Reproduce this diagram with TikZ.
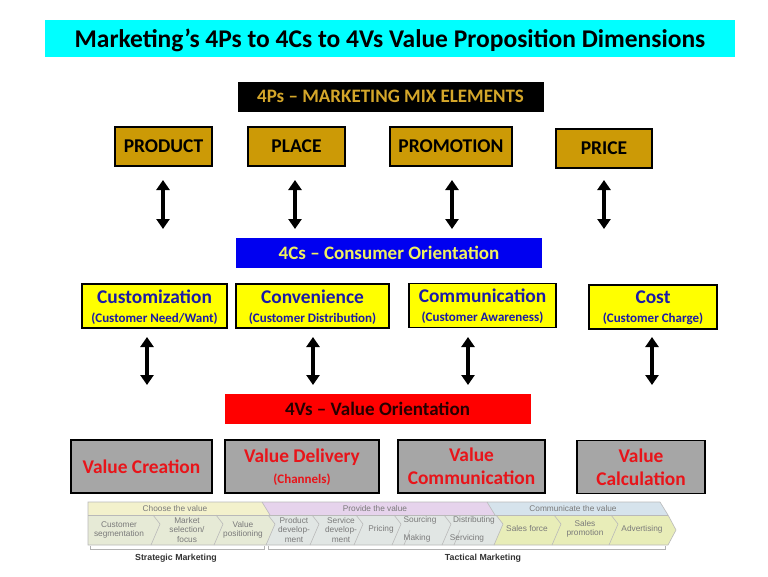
\documentclass[tikz,border=0pt]{standalone}
\usepackage{fontspec}
\setmainfont{Carlito}
\newfontfamily\stripfont{Liberation Sans}
\usetikzlibrary{arrows.meta}
\newcommand\subfnt{\bfseries\fontsize{13}{14}\selectfont}
\definecolor{titlecyan}{HTML}{00FFFF}
\definecolor{goldfill}{HTML}{CC9A06}
\definecolor{goldtext}{HTML}{D4A62A}
\definecolor{headblue}{HTML}{0000F0}
\definecolor{headyellow}{HTML}{F0F060}
\definecolor{cyellow}{HTML}{FFFF00}
\definecolor{cblue}{HTML}{1A1AA8}
\definecolor{vred}{HTML}{FF0000}
\definecolor{vgrey}{HTML}{A6A6A6}
\definecolor{vtext}{HTML}{E8141A}
\definecolor{stripA}{HTML}{F3F1CC}
\definecolor{stripB}{HTML}{E6D3EC}
\definecolor{stripC}{HTML}{D6E3EC}
\definecolor{lowA}{HTML}{E6EAD6}
\definecolor{lowB}{HTML}{E1E6E4}
\definecolor{lowC}{HTML}{E8EDB8}
\definecolor{striptext}{HTML}{7A7A7A}
\tikzset{
  titlebox/.style={fill=titlecyan, inner sep=0pt, minimum width=690pt, minimum height=37pt,
    text depth=0pt, font=\bfseries\fontsize{25.5}{28}\selectfont},
  headbox/.style={inner sep=0pt, minimum width=306pt, minimum height=30pt,
    font=\bfseries\fontsize{19}{22}\selectfont},
  pbox/.style={fill=goldfill, draw=black, line width=1.6pt, inner sep=0pt, minimum height=39pt,
    font=\bfseries\fontsize{19.5}{22}\selectfont},
  cbox/.style={fill=cyellow, draw=black, line width=1.6pt, inner sep=0pt, minimum height=44pt,
    text depth=0pt, align=center, text=cblue, font=\bfseries\fontsize{19.4}{19}\selectfont},
  vbox/.style={fill=vgrey, draw=black, line width=1.6pt, inner sep=0pt, minimum height=53pt,
    align=center, text=vtext, font=\bfseries\fontsize{19.4}{23}\selectfont},
  dbl/.style={line width=4pt, {Triangle[width=13pt,length=10pt]}-{Triangle[width=13pt,length=10pt]}},
  stxt/.style={text=striptext, align=center, inner sep=0pt, font=\stripfont\fontsize{8.3}{9.5}\selectfont},
  sbold/.style={text=black!80, inner sep=0pt, font=\stripfont\bfseries\fontsize{8.8}{10}\selectfont},
  sepline/.style={draw=gray!55, line width=0.6pt}
}
\begin{document}
\begin{tikzpicture}[x=1pt,y=-1pt]
\useasboundingbox (0,0) rectangle (768,576);
\fill[white] (0,0) rectangle (768,576);

% title
\node[titlebox] (title) at (390,38.5) {Marketing’s 4Ps to 4Cs to 4Vs Value Proposition Dimensions};

% 4Ps
\node[headbox, fill=black, text=goldtext] (fourp) at (390.5,96.5) {4Ps – MARKETING MIX ELEMENTS};
\node[pbox, minimum width=97pt] (product) at (163.5,146.5) {PRODUCT};
\node[pbox, minimum width=97pt] (place) at (296.5,146.5) {PLACE};
\node[pbox, minimum width=122pt] (promotion) at (451,146.5) {PROMOTION};
\node[pbox, minimum width=96pt] (price) at (604,148.5) {PRICE};

% 4Cs
\node[headbox, fill=headblue, text=headyellow] (fourc) at (389,253) {4Cs – Consumer Orientation};
\node[cbox, minimum width=145pt] (custom) at (154.5,306) {Customization\\{\subfnt(Customer Need/Want)}};
\node[cbox, minimum width=153pt] (conv) at (312.5,306) {Convenience\\{\subfnt(Customer Distribution)}};
\node[cbox, minimum width=147pt] (comm) at (482.5,305.5) {Communication\\{\subfnt(Customer Awareness)}};
\node[cbox, minimum width=128pt] (cost) at (653,307) {Cost\\{\subfnt(Customer Charge)}};

% arrows 4P -> 4C
\coordinate (a1t) at (163,180); \coordinate (a1b) at (163,229);
\coordinate (a2t) at (295,180); \coordinate (a2b) at (295,229);
\coordinate (a3t) at (452,180); \coordinate (a3b) at (452,229);
\coordinate (a4t) at (604,180); \coordinate (a4b) at (604,229);
\draw[dbl] (a1t) -- (a1b);
\draw[dbl] (a2t) -- (a2b);
\draw[dbl] (a3t) -- (a3b);
\draw[dbl] (a4t) -- (a4b);

% 4Vs
\node[headbox, fill=vred, text=black!85!red] (fourv) at (377.5,409) {4Vs – Value Orientation};
\node[vbox, minimum width=141pt] (vcreat) at (141.5,466.5) {Value Creation};
\node[vbox, minimum width=154pt, text depth=0pt] (vdeliv) at (302,466.5) {Value Delivery\\[-2pt]{\bfseries\fontsize{13}{14}\selectfont(Channels)}};
\node[vbox, minimum width=147pt, text depth=0pt] (vcomm) at (471.5,466.5) {Value\\Communication};
\node[vbox, minimum width=128pt, text depth=0pt] (vcalc) at (641,467) {Value\\Calculation};

% arrows 4C -> 4V
\coordinate (b1t) at (147,337); \coordinate (b1b) at (147,385);
\coordinate (b2t) at (313,337); \coordinate (b2b) at (313,385);
\coordinate (b3t) at (468,337); \coordinate (b3b) at (468,385);
\coordinate (b4t) at (652,337); \coordinate (b4b) at (652,385);
\draw[dbl] (b1t) -- (b1b);
\draw[dbl] (b2t) -- (b2b);
\draw[dbl] (b3t) -- (b3b);
\draw[dbl] (b4t) -- (b4b);

% bottom value chain strip
\fill[stripA] (88,502) -- (262,502) -- (270,515) -- (88,515) -- cycle;
\fill[stripB] (262,502) -- (487,502) -- (495,515) -- (270,515) -- cycle;
\fill[stripC] (487,502) -- (660,502) -- (668,515) -- (495,515) -- cycle;
\fill[lowA] (88,515) -- (268,515) -- (275,524) -- (266,545) -- (88,545) -- cycle;
\fill[lowB] (268,515) -- (496,515) -- (503,524) -- (494,545) -- (266,545) -- (275,524) -- cycle;
\fill[lowC] (496,515) -- (668,515) -- (676,530) -- (668,545) -- (494,545) -- (503,524) -- cycle;
\draw[sepline] (88,502) -- (660,502) -- (668,515) -- (676,530) -- (668,545) -- (88,545) -- cycle;
\draw[sepline] (88,515) -- (668,515);
\draw[sepline] (262,502) -- (270,515);
\draw[sepline] (487,502) -- (495,515);
\foreach \s in {153,216,268,312,356,394,444,496,554,611} {
  \draw[sepline] (\s,515) -- (\s+7,524) -- (\s-2,545);
}
\draw[sepline] (410,530) -- (404,545);
\draw[sepline] (460,530) -- (454,545);
% brackets
\draw[draw=gray!60, line width=0.7pt] (90,546) -- (90,549) -- (264,549) -- (264,546);
\draw[draw=gray!60, line width=0.7pt] (268,546) -- (268,549) -- (665,549) -- (665,546);

\node[stxt] (s1) at (175,509) {Choose the value};
\node[stxt] (s2) at (375,509) {Provide the value};
\node[stxt] (s3) at (573,509) {Communicate the value};
\node[stxt] (c1) at (119,530) {Customer\\segmentation};
\node[stxt] (c2) at (187,530) {Market\\selection/\\focus};
\node[stxt] (c3) at (243,530) {Value\\positioning};
\node[stxt] (c4) at (294,530) {Product\\develop-\\ment};
\node[stxt] (c5) at (341,530) {Service\\develop-\\ment};
\node[stxt] (c6) at (381,529) {Pricing};
\node[stxt] (c7) at (420,520) {Sourcing};
\node[stxt] (c8) at (417,538) {Making};
\node[stxt] (c9) at (474,520) {Distributing};
\node[stxt] (c10) at (467,538) {Servicing};
\node[stxt] (c11) at (527,529) {Sales force};
\node[stxt] (c12) at (585,529) {Sales\\promotion};
\node[stxt] (c13) at (642,529) {Advertising};
\node[sbold] (sm) at (176,558) {Strategic Marketing};
\node[sbold] (tm) at (483,558) {Tactical Marketing};
\end{tikzpicture}
\end{document}
